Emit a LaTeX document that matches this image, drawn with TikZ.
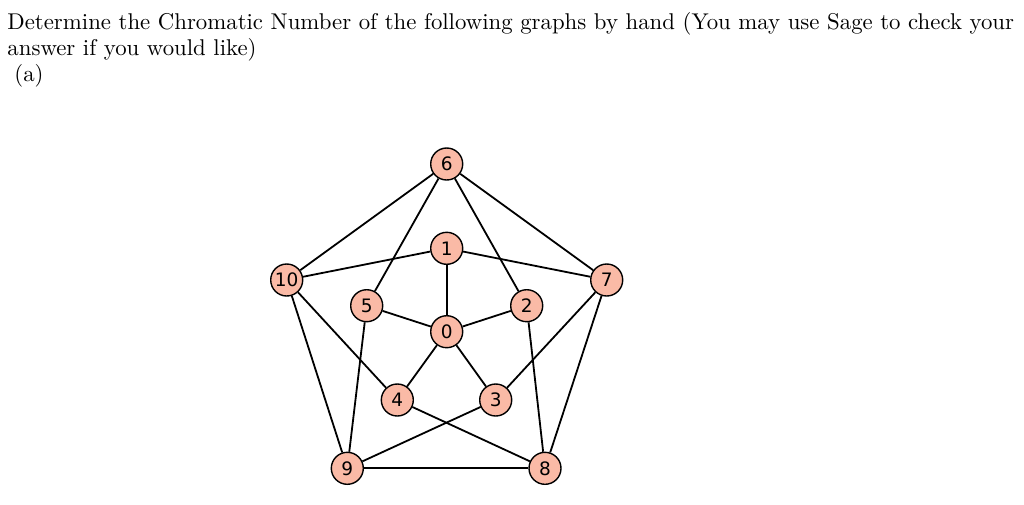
\documentclass[tikz,border=0pt]{standalone}
\usepackage{fontspec}
\newfontfamily\vfont{DejaVu Sans}
\usetikzlibrary{positioning}
\definecolor{vtx}{HTML}{FABAA6}

\begin{document}
\begin{tikzpicture}[x={(1pt,0pt)},y={(0pt,-1pt)},
  v/.style={circle,draw,line width=1.4pt,fill=vtx,inner sep=0pt,minimum size=32pt,font=\vfont\fontsize{18.5}{18.5}\selectfont},
  q/.style={anchor=base west,inner sep=0pt,scale=2.28,font=\fontsize{10}{12}\selectfont},
  e/.style={line width=1.8pt}]
\useasboundingbox (0,0) rectangle (1024,504);
% question text
\node[q] (q1) at (7,29) {Determine the Chromatic Number of the following graphs by hand (You may use Sage to check your};
\node[q] (q2) at (7,55) {answer if you would like)};
\node[q] (qa) at (14,81) {(a)};
% vertices
\node[v] (n6)  at (446.7,164)   {6};
\node[v] (n1)  at (446.7,248.3) {1};
\node[v] (n10) at (286.7,280)   {10};
\node[v] (n7)  at (606.7,280)   {7};
\node[v] (n5)  at (366.7,305.7) {5};
\node[v] (n2)  at (526.7,305.7) {2};
\node[v] (n0)  at (446.7,331.7) {0};
\node[v] (n4)  at (397.3,400)   {4};
\node[v] (n3)  at (495.7,400)   {3};
\node[v] (n9)  at (347.3,468.3) {9};
\node[v] (n8)  at (545,468.3)   {8};
% edges
\foreach \a/\b in {n6/n10,n6/n7,n6/n5,n6/n2,n1/n10,n1/n7,n1/n0,n10/n4,n10/n9,
                   n5/n0,n5/n9,n2/n0,n2/n8,n7/n3,n7/n8,n0/n4,n0/n3,n4/n8,n3/n9,n9/n8}
  \draw[e] (\a) -- (\b);
\end{tikzpicture}
\end{document}
